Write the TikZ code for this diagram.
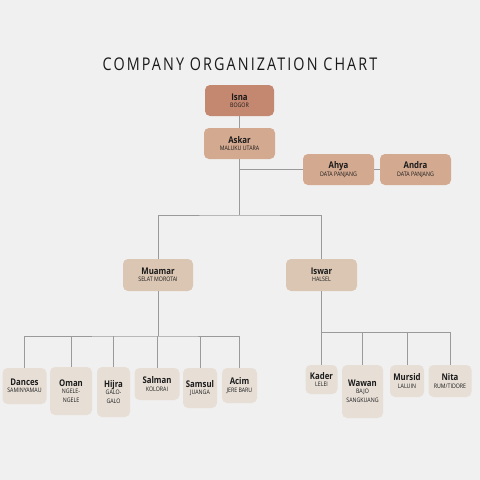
\documentclass[tikz,border=0pt]{standalone}
\usepackage{fontspec}
\setmainfont{Open Sans}
\newfontfamily\namefont[FakeStretch=0.85]{Open Sans}
\newfontfamily\titlefont[FakeStretch=0.82,LetterSpace=12]{Open Sans}
\definecolor{bg}{HTML}{F0F0F0}
\definecolor{topc}{HTML}{C4876F}
\definecolor{secc}{HTML}{D3A990}
\definecolor{midc}{HTML}{DAC6B3}
\definecolor{leafc}{HTML}{E7DFD6}
\definecolor{linec}{HTML}{9A9A9A}
\definecolor{txt}{HTML}{1A1A1A}
\begin{document}
\begin{tikzpicture}[x=1pt,y=-1pt,
  box/.style={rounded corners=5pt, inner sep=0pt, align=center, text=txt,
     font=\namefont\fontsize{6.2pt}{7.2pt}\selectfont},
  conn/.style={draw=linec, line width=0.9pt}]
\path[fill=bg] (0,0) rectangle (480,480);
\node[font=\titlefont\fontsize{17.5pt}{20pt}\selectfont, text=txt] (title) at (240,64) {COMPANY ORGANIZATION CHART};
\newcommand{\nm}[1]{{\bfseries\fontsize{9.2pt}{9.6pt}\selectfont #1}}
% top levels
\node[box, fill=topc, minimum width=69pt, minimum height=31pt] (Isna) at (239.5,100.5) {\nm{Isna}\\BOGOR};
\node[box, fill=secc, minimum width=71pt, minimum height=31pt] (Askar) at (239.5,143.5) {\nm{Askar}\\MALUKU UTARA};
\node[box, fill=secc, minimum width=71pt, minimum height=31pt] (Ahya) at (338.5,169.5) {\nm{Ahya}\\DATA PANJANG};
\node[box, fill=secc, minimum width=71pt, minimum height=31pt] (Andra) at (415.5,169.5) {\nm{Andra}\\DATA PANJANG};
\node[box, fill=midc, minimum width=70pt, minimum height=32pt] (Muamar) at (158,275) {\nm{Muamar}\\SELAT MOROTAI};
\node[box, fill=midc, minimum width=71pt, minimum height=32pt] (Iswar) at (321.5,275) {\nm{Iswar}\\HALSEL};
% leaves left
\node[box, fill=leafc, minimum width=44pt, minimum height=36pt] (Dances) at (24.5,386) {\nm{Dances}\\SAMINYAMAU};
\node[box, fill=leafc, minimum width=42pt, minimum height=48pt] (Oman) at (71,391) {\nm{Oman}\\NGELE-\\[2pt]NGELE};
\node[box, fill=leafc, minimum width=33pt, minimum height=50pt] (Hijra) at (113.5,392) {\nm{Hijra}\\GALO-\\[2pt]GALO};
\node[box, fill=leafc, minimum width=45pt, minimum height=32pt] (Salman) at (157,384) {\nm{Salman}\\KOLORAI};
\node[box, fill=leafc, minimum width=34pt, minimum height=40pt] (Samsul) at (200,388) {\nm{Samsul}\\JUANGA};
\node[box, fill=leafc, minimum width=35pt, minimum height=35pt] (Acim) at (239.5,385.5) {\nm{Acim}\\JERE BARU};
% leaves right
\node[box, fill=leafc, minimum width=32pt, minimum height=29pt] (Kader) at (321.5,379.5) {\nm{Kader}\\LELEI};
\node[box, fill=leafc, minimum width=41pt, minimum height=53pt] (Wawan) at (362.5,391.5) {\nm{Wawan}\\BAJO\\[2pt]SANGKUANG};
\node[box, fill=leafc, minimum width=34pt, minimum height=32pt] (Mursid) at (407,381) {\nm{Mursid}\\LALUIN};
\node[box, fill=leafc, minimum width=43pt, minimum height=32pt] (Nita) at (450,381) {\nm{Nita}\\RUM/TIDORE};
% connectors
\coordinate (bus1) at (239.5,215);
\coordinate (busL) at (158,336);
\coordinate (busR) at (321.5,332);
\draw[conn] (Isna.south) -- (Askar.north);
\draw[conn] (Askar.south) -- (bus1);
\draw[conn] (Askar.south) |- (Ahya.west);
\draw[conn] (Ahya.east) -- (Andra.west);
\draw[conn] (Muamar.north) |- (bus1) -| (Iswar.north);
\draw[conn] (Muamar.south) -- (busL);
\draw[conn] (Dances.north) |- (busL) -| (Acim.north);
\foreach \n in {Oman,Hijra,Salman,Samsul} \draw[conn] (\n.north) -- (\n.north |- busL);
\draw[conn] (Iswar.south) -- (busR);
\draw[conn] (Kader.north) |- (busR) -| (Nita.north);
\foreach \n in {Wawan,Mursid} \draw[conn] (\n.north) -- (\n.north |- busR);
\end{tikzpicture}
\end{document}
